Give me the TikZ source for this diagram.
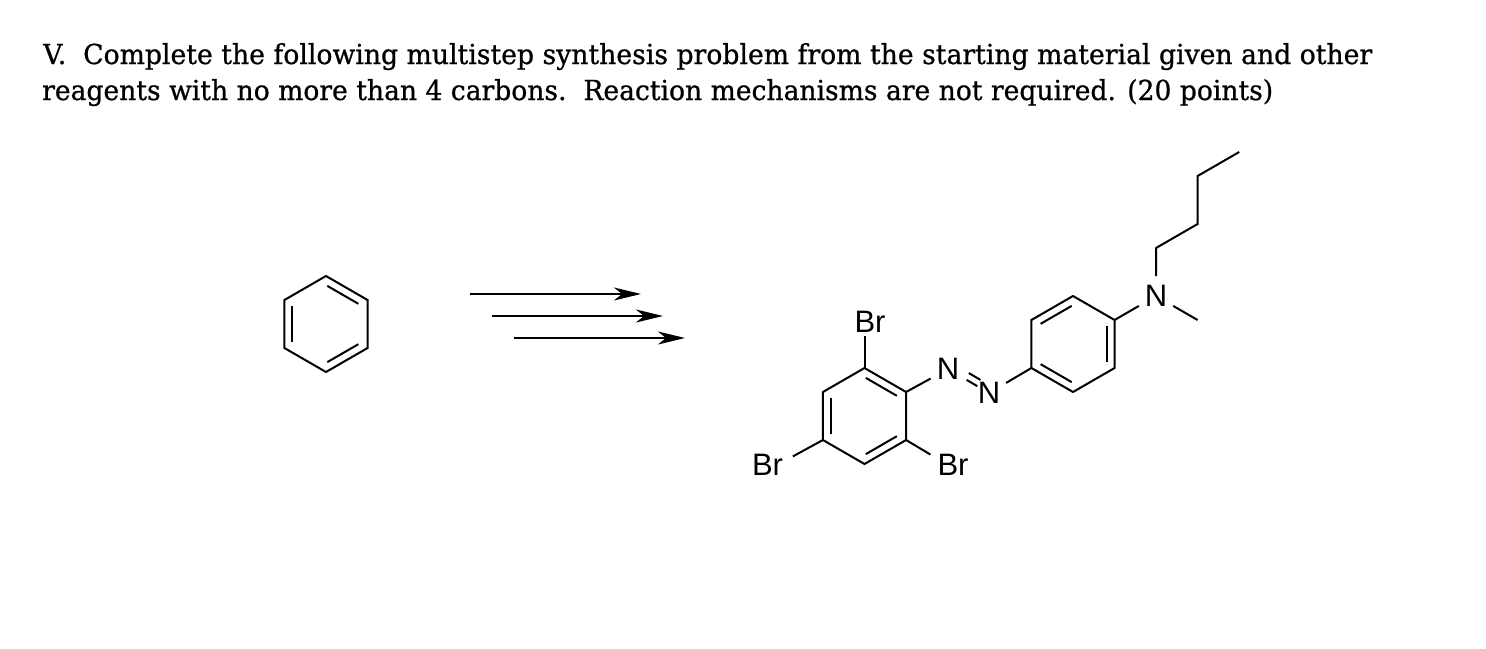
\documentclass[tikz,border=0pt]{standalone}
\usepackage{fontspec}
\usepackage{graphicx}
\usetikzlibrary{calc,arrows.meta}
\newfontfamily\headfont[FakeBold=0.8]{DejaVu Serif}
\newfontfamily\atomfont{Liberation Sans}

\newcommand\hexat[3]{%
  \coordinate (#1c) at (#2,#3);
  \coordinate (#1t) at (#2,#3-48);
  \coordinate (#1ur) at (#2+41.57,#3-24);
  \coordinate (#1lr) at (#2+41.57,#3+24);
  \coordinate (#1b) at (#2,#3+48);
  \coordinate (#1ll) at (#2-41.57,#3+24);
  \coordinate (#1ul) at (#2-41.57,#3-24);
  \draw[bond] (#1t) -- (#1ur) -- (#1lr) -- (#1b) -- (#1ll) -- (#1ul) -- cycle;}
\newcommand\innerbond[3]{%
  \draw[bond, shorten <=1.5pt, shorten >=1.5pt] ($(#1#2)!0.19!(#1c)$) -- ($(#1#3)!0.19!(#1c)$);}

\begin{document}
\begin{tikzpicture}[x=1pt,y=-1pt,
  bond/.style={line width=2pt},
  atom/.style={circle, inner sep=3pt, font=\atomfont\fontsize{31}{31}\selectfont},
  halo/.style={rectangle, inner sep=0pt, font=\atomfont\fontsize{31}{31}\selectfont},
  rxn/.style={line width=2pt, -{Stealth[length=27pt,width=13pt,inset=8pt]}},
  head/.style={anchor=base west, inner sep=0pt, font=\headfont\fontsize{27.5}{33}\selectfont}]

\useasboundingbox (0,0) rectangle (1486,648);

% heading
\node[head] (l1) at (43,64) {\resizebox{1329pt}{\height}{V.\ \ Complete the following multistep synthesis problem from the starting material given and other}};
\node[head] (l2) at (42,100) {\resizebox{1231pt}{\height}{reagents with no more than 4 carbons.\ \ Reaction mechanisms are not required. (20 points)}};

% starting material: benzene
\hexat{s}{326}{324}
\innerbond{s}{t}{ur}
\innerbond{s}{lr}{b}
\innerbond{s}{ll}{ul}

% arrows
\coordinate (a1s) at (470,294); \coordinate (a1e) at (641,294);
\coordinate (a2s) at (492,316); \coordinate (a2e) at (663,316);
\coordinate (a3s) at (514,338); \coordinate (a3e) at (685,338);
\draw[rxn] (a1s) -- (a1e);
\draw[rxn] (a2s) -- (a2e);
\draw[rxn] (a3s) -- (a3e);

% product ring 1 (tribromophenyl)
\hexat{p}{864.5}{416}
\innerbond{p}{t}{ur}
\innerbond{p}{lr}{b}
\innerbond{p}{ll}{ul}

\node[halo] (br1) at (870,322) {Br};
\node[halo] (br2) at (767.5,465) {Br};
\node[halo] (br3) at (953,465) {Br};
\draw[bond, shorten >=3pt] (pt) -- (pt |- br1.south);
\draw[bond, shorten >=11pt] (pll) -- (br2.12);
\draw[bond, shorten >=8pt] (plr) -- (br3.158);

% azo group
\node[atom] (n1) at (948,369) {N};
\node[atom] (n2) at (989,393) {N};
\draw[bond] (pur) -- (n1);
\draw[bond, shorten <=21.5pt, shorten >=13.5pt] (n1.center) -- (n2.center);
\draw[bond, shorten <=20pt, shorten >=14pt] ($(n1)!7pt!90:(n2)$) -- ($(n2)!7pt!-90:(n1)$);

% product ring 2
\hexat{q}{1073}{344}
\innerbond{q}{ul}{t}
\innerbond{q}{ur}{lr}
\innerbond{q}{ll}{b}
\draw[bond] (n2) -- (qll);

% N-butyl-N-methyl amine
\node[atom] (n3) at (1156,296) {N};
\coordinate (c1) at (1156,248);
\coordinate (c2) at (1197.6,224);
\coordinate (c3) at (1197.6,176);
\coordinate (c4) at (1239.2,152);
\coordinate (cm) at (1197.6,320);
\draw[bond] (qur) -- (n3);
\draw[bond] (n3) -- (c1) -- (c2) -- (c3) -- (c4);
\draw[bond] (n3) -- (cm);
\end{tikzpicture}
\end{document}
